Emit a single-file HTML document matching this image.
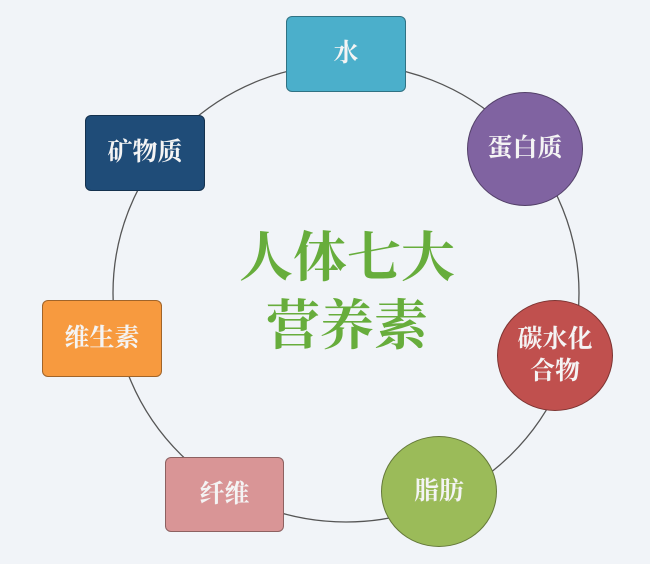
<!DOCTYPE html>
<html><head><meta charset="utf-8"><style>
body{margin:0;width:650px;height:564px;background:#f1f4f8;overflow:hidden;position:relative;font-family:"Liberation Serif","Noto Serif CJK SC",serif;}
.b{position:absolute;border-radius:6px;color:#f4f4f4;font-weight:bold;font-size:25px;display:flex;align-items:center;justify-content:center;box-sizing:border-box;border:1.5px solid rgba(0,0,0,0.35);text-align:center;line-height:1.25}
.c{border-radius:50%}
</style></head><body>
<svg width="650" height="564" style="position:absolute;left:0;top:0"><ellipse cx="346" cy="293" rx="233" ry="229" fill="none" stroke="#555" stroke-width="1.3"/></svg>
<div class="b" style="left:286px;top:16px;width:120px;height:76px;background:#4bafcb">水</div>
<div class="b" style="left:85px;top:115px;width:120px;height:76px;background:#1f4c78">矿物质</div>
<div class="b" style="left:42px;top:300px;width:120px;height:77px;background:#f79a3f">维生素</div>
<div class="b" style="left:165px;top:457px;width:119px;height:75px;background:#d99596">纤维</div>
<div class="b c" style="left:467px;top:92px;width:116px;height:114px;background:#8063a1">蛋白质</div>
<div class="b c" style="left:497px;top:300px;width:116px;height:111px;background:#c0504e">碳水化<br>合物</div>
<div class="b c" style="left:381px;top:436px;width:116px;height:111px;background:#9bbb59">脂肪</div>
<div style="position:absolute;left:230px;top:224px;width:234px;text-align:center;color:#67ad3c;font-weight:bold;font-size:54px;line-height:68px">人体七大<br>营养素</div>
</body></html>
